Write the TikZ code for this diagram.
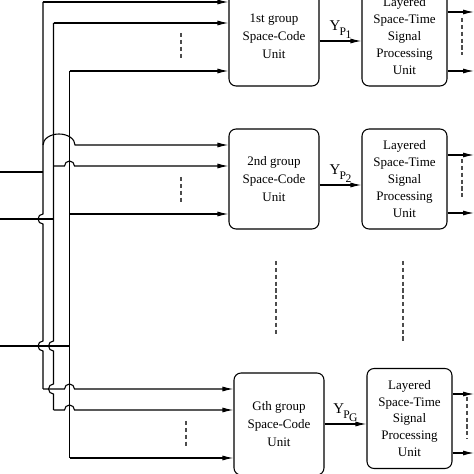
\documentclass[tikz,border=0pt]{standalone}
\usepackage{fontspec}
\setmainfont{Liberation Serif}
\usetikzlibrary{arrows.meta}

\newcommand{\ypsub}[1]{Y\kern-0.5pt\raisebox{-0.8ex}{\fontsize{6.6}{7}\selectfont P\kern-0.3pt\raisebox{-0.55ex}{#1}}}

\begin{document}
\begin{tikzpicture}[
			x=0.02cm, y=0.02cm,
			line width=0.62pt,
			unit/.style = {draw, rounded corners=0.14cm, align=center,
				minimum width=1.8cm, minimum height=2cm, inner sep=0pt,
				font=\fontsize{7.4}{10.2}\selectfont},
			lst/.style = {unit, minimum width=1.7cm,
				font=\fontsize{7.4}{9.6}\selectfont},
			link/.style = {draw, -{Latex[length=0.22cm,width=0.1cm]}},
			wire/.style = {draw},
			vdash/.style = {draw, dash pattern=on 2.4pt off 1.5pt, black!70},
			ylbl/.style = {above, inner sep=1pt, font=\fontsize{8.5}{9}\selectfont},
			]
			\useasboundingbox (0,0) rectangle (474,474);
			\clip (0,0) rectangle (474,474);

			% group units
			\node[unit] (cu1) at (274,438) {1st group\\Space-Code\\Unit};
			\node[lst] (lst1) at (404.5,438) {Layered\\Space-Time\\Signal\\Processing\\Unit};
			\node[unit] (cu2) at (274,295) {2nd group\\Space-Code\\Unit};
			\node[lst] (lst2) at (404.5,295) {Layered\\Space-Time\\Signal\\Processing\\Unit};
			\node[unit, minimum height=2.04cm] (cuG) at (279,50) {Gth group\\Space-Code\\Unit};
			\node[lst] (lstG) at (409.5,55.5) {Layered\\Space-Time\\Signal\\Processing\\Unit};

			\draw[link] ([yshift=-0.1cm]cu1.east) -- ([yshift=-0.1cm]lst1.west)
				node[ylbl, midway] {\ypsub{1}};
			\draw[link] ([yshift=-0.12cm]cu2.east) -- ([yshift=-0.12cm]lst2.west)
				node[ylbl, midway] {\ypsub{2}};
			\draw[link] (cuG.east) -- (cuG.east -| lstG.west)
				node[ylbl, midway] {\ypsub{G}};

			% bus taps
			\coordinate (a1) at (43,472);
			\coordinate (b1) at (53.5,451);
			\coordinate (c1) at (69.5,403);
			\coordinate (a2) at (43,329);
			\coordinate (b2) at (53.5,308);
			\coordinate (c2) at (69.5,260);
			\coordinate (aG) at (43,85);
			\coordinate (bG) at (53.5,64);
			\coordinate (cG) at (69.5,16);
			\coordinate (in1) at (0,302);
			\coordinate (in2) at (0,255);
			\coordinate (in3) at (0,128);

			% inputs and buses
			\draw[wire] (in1) -- (in1 -| a1);
			\draw[wire] (in2) -- (in2 -| b1);
			\draw[wire] (in3) -- (in3 -| c1);
			\draw[wire] (a1) -- (43,260) arc (90:270:5) -- (43,133) arc (90:270:5) -- (aG);
			\draw[wire] (b1) -- (53.5,133) arc (90:270:5) -- (53.5,90) arc (90:270:5) -- (bG);
			\draw[wire] (c1) -- (cG);

			\draw[link] (a1) -- (a1 -| cu1.west);
			\draw[link] (b1) -- (b1 -| cu1.west);
			\draw[link] (c1) -- (c1 -| cu1.west);
			\draw[link] (a2) arc [start angle=180, end angle=0, x radius=16, y radius=11] -- (a2 -| cu2.west);
			\draw[link] (b2) -- ++(11,0) arc (180:0:5) -- (b2 -| cu2.west);
			\draw[link] (c2) -- (c2 -| cu2.west);
			\draw[link] (aG) -- (64.5,85) arc (180:0:5) -- (aG -| cuG.west);
			\draw[link] (bG) -- ++(11,0) arc (180:0:5) -- (bG -| cuG.west);
			\draw[link] (cG) -- (cG -| cuG.west);

			% outputs
			\coordinate (o1a) at (474,462);
			\coordinate (o1b) at (474,403);
			\coordinate (o2a) at (474,319);
			\coordinate (o2b) at (474,261);
			\coordinate (oGa) at (474,80);
			\coordinate (oGb) at (474,21);
			\draw[link] (o1a -| lst1.east) -- (o1a);
			\draw[link] (o1b -| lst1.east) -- (o1b);
			\draw[link] (o2a -| lst2.east) -- (o2a);
			\draw[link] (o2b -| lst2.east) -- (o2b);
			\draw[link] (oGa -| lstG.east) -- (oGa);
			\draw[link] (oGb -| lstG.east) -- (oGb);

			% dots
			\draw[vdash] (181,441) -- (181,414);
			\draw[vdash] (181,297) -- (181,271);
			\draw[vdash] (186,53) -- (186,27);
			\draw[vdash] (276,213) -- (276,140);
			\draw[vdash] (403,213) -- (403,133);
			\draw[vdash] (462,456) -- (462,419);
			\draw[vdash] (462,315) -- (462,274);
			\draw[vdash] (467,77) -- (467,35);
		\end{tikzpicture}
\end{document}
